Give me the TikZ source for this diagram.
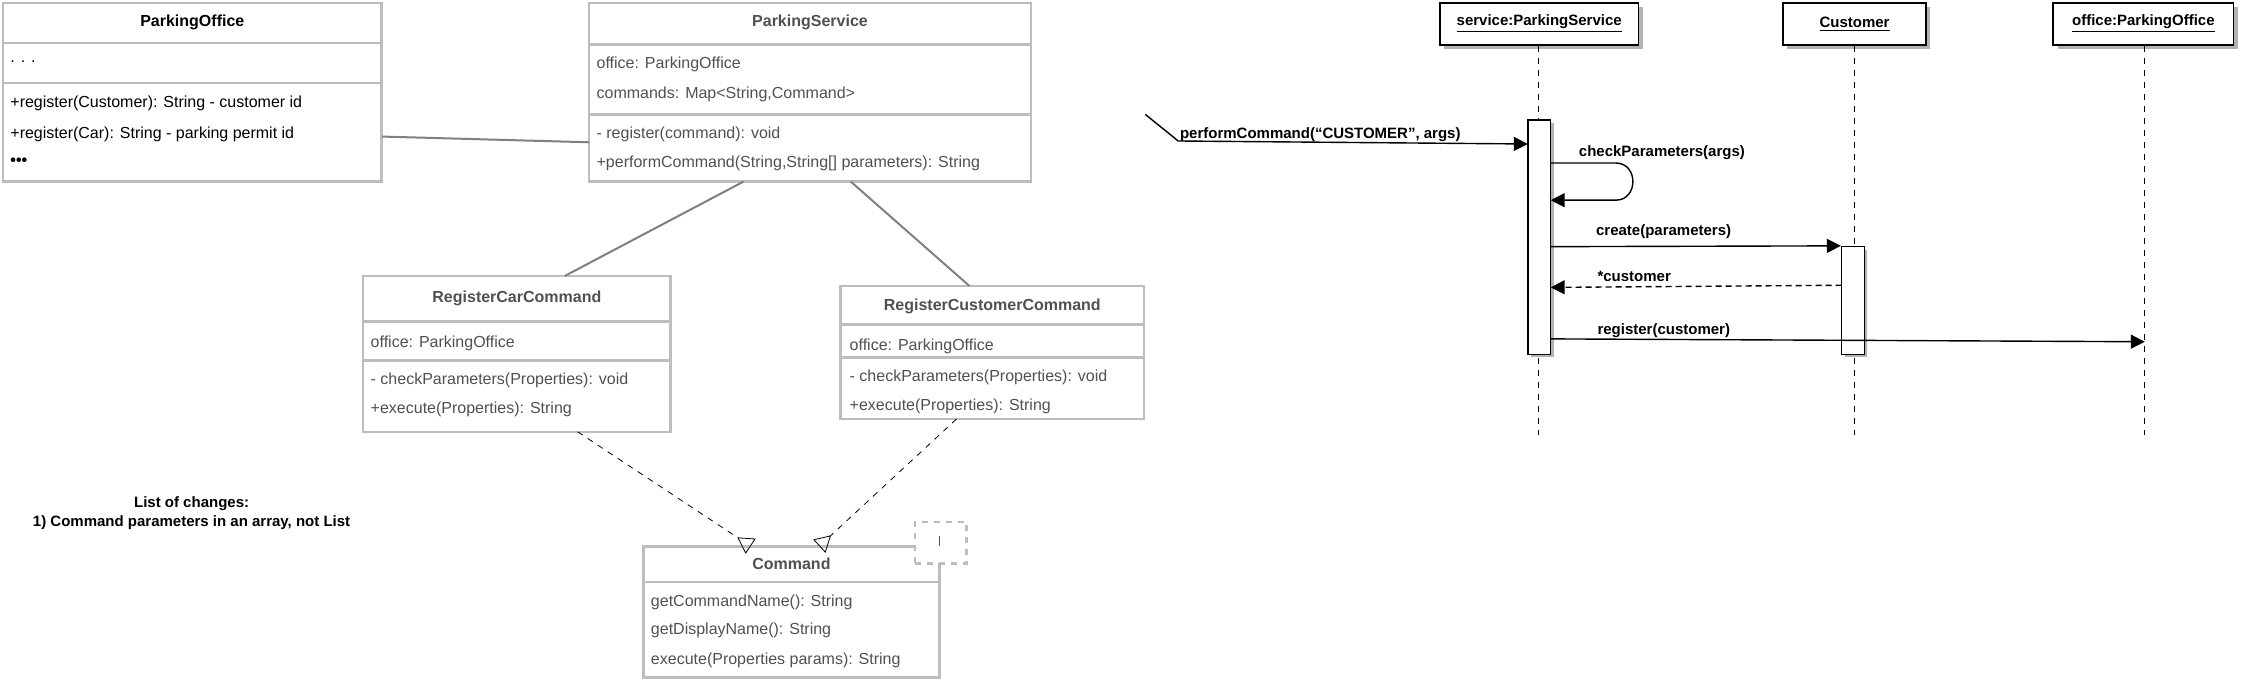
\documentclass[tikz,border=0pt]{standalone}
\usepackage{fontspec}
\setmainfont{Liberation Sans}
\usetikzlibrary{fit,arrows.meta}
\definecolor{bx}{HTML}{BBBDBF}
\definecolor{tx}{HTML}{505050}
\begin{document}
\begin{tikzpicture}[x=0.715pt,y=-0.715pt,
  cls/.style={draw=bx,line width=1.3pt,inner sep=0pt},
  sep/.style={draw=bx,line width=1.3pt},
  ctitle/.style={font=\fontsize{8}{9}\selectfont\bfseries,text=tx},
  ctext/.style={font=\fontsize{8}{9}\selectfont,text=tx,anchor=west,inner sep=0pt},
  assoc/.style={draw=gray,line width=1pt},
  real/.style={dashed,-{Triangle[open,reversed,length=8pt,width=9pt]}},
  obj/.style={draw=black,line width=0.8pt,fill=white,inner sep=0pt},
  sl/.style={font=\fontsize{7.5}{9}\selectfont\bfseries,anchor=west,inner sep=0pt},
  msg/.style={-{Triangle[length=7pt,width=7pt]},line width=0.7pt},
  life/.style={dashed,line width=0.6pt}]
\useasboundingbox (0,0) rectangle (1568,476);
% ParkingOffice
\coordinate (po1) at (2,2); \coordinate (po2) at (267,127);
\node[cls,fit=(po1)(po2)] (po) {};
\draw[sep] (2,30) -- (267,30); \draw[sep] (2,58) -- (267,58);
\node[ctitle,text=black] (pot) at (134.5,16) {ParkingOffice};
\node[ctext,text=black] (pod) at (7,43) {. . .};
\node[ctext,text=black] (po3) at (7,72) {+register(Customer): String - customer id};
\node[ctext,text=black] (po4) at (7,94) {+register(Car): String - parking permit id};
\node[ctext,text=black] (po5) at (7,113) {\textbf{•••}};
% ParkingService
\coordinate (ps1) at (412,2); \coordinate (ps2) at (721,127);
\node[cls,fit=(ps1)(ps2)] (ps) {};
\draw[sep] (412,31) -- (721,31); \draw[sep] (412,80) -- (721,80);
\node[ctitle] (pst) at (566.5,16) {ParkingService};
\node[ctext] (ps3) at (417,45) {office: ParkingOffice};
\node[ctext] (ps4) at (417,66) {commands: Map<String,Command>};
\node[ctext] (ps5) at (417,94) {- register(command): void};
\node[ctext] (ps6) at (417,114) {+performCommand(String,String[] parameters): String};
% RegisterCarCommand
\coordinate (rc1) at (254,193); \coordinate (rc2) at (469,302);
\node[cls,fit=(rc1)(rc2)] (rc) {};
\draw[sep] (254,225) -- (469,225); \draw[sep] (254,252) -- (469,252);
\node[ctitle] (rct) at (361.5,209) {RegisterCarCommand};
\node[ctext] (rc3) at (259,240) {office: ParkingOffice};
\node[ctext] (rc4) at (259,266) {- checkParameters(Properties): void};
\node[ctext] (rc5) at (259,286) {+execute(Properties): String};
% RegisterCustomerCommand
\coordinate (ru1) at (588,200); \coordinate (ru2) at (800,293);
\node[cls,fit=(ru1)(ru2)] (ru) {};
\draw[sep] (588,227) -- (800,227); \draw[sep] (588,250) -- (800,250);
\node[ctitle] (rut) at (694,214) {RegisterCustomerCommand};
\node[ctext] (ru3) at (594,242) {office: ParkingOffice};
\node[ctext] (ru4) at (594,264) {- checkParameters(Properties): void};
\node[ctext] (ru5) at (594,284) {+execute(Properties): String};
% Command
\coordinate (cm1) at (450,382); \coordinate (cm2) at (657,474);
\node[cls,fit=(cm1)(cm2)] (cm) {};
\draw[sep] (450,407) -- (657,407);
\node[ctitle] (cmt) at (553.5,394) {Command};
\node[ctext] (cm3) at (455,421) {getCommandName(): String};
\node[ctext] (cm4) at (455,441) {getDisplayName(): String};
\node[ctext] (cm5) at (455,462) {execute(Properties params): String};
\coordinate (tp1) at (640,365); \coordinate (tp2) at (676,394);
\node[draw=bx,dashed,line width=1.3pt,fill=white,inner sep=0pt,fit=(tp1)(tp2)] (tp) {};
\draw[tx,line width=0.5pt] (657,375) -- (657,382);
% connectors
\coordinate (a1) at (267,95.5); \coordinate (a2) at (412,99.5);
\draw[assoc] (a1) -- (a2);
\coordinate (b1) at (520,127); \coordinate (b2) at (395,193);
\draw[assoc] (b1) -- (b2);
\coordinate (c1) at (595,127); \coordinate (c2) at (678,200);
\draw[assoc] (c1) -- (c2);
\coordinate (d1) at (404,302); \coordinate (d2) at (525,382);
\draw[real] (d1) -- (d2);
\coordinate (e1) at (669,293); \coordinate (e2) at (573,382);
\draw[real] (e1) -- (e2);
% note
\node[font=\fontsize{7.5}{9.5}\selectfont\bfseries,align=center] (note) at (134,359) {List of changes:\\1) Command parameters in an array, not List};
% sequence diagram
\foreach \n/\xa/\xb/\t in {s/1007/1146/service:ParkingService,c/1247/1347/Customer,o/1436/1562/office:ParkingOffice}{
  \coordinate (\n1) at (\xa,2); \coordinate (\n2) at (\xb,31.5);
  \fill[black!30] (\xa+3,5) rectangle (\xb+3,34.5);
  \node[obj,fit=(\n1)(\n2)] (\n) {};
  \node[font=\fontsize{7.5}{9}\selectfont\bfseries] (\n t) at (\n) {\underline{\t}};
}
\coordinate (sl) at (1076,304); \coordinate (cl) at (1297,304); \coordinate (ol) at (1500,304);
\draw[life] (s.south -| sl) -- (sl);
\draw[life] (c.south -| cl) -- (cl);
\draw[life] (o.south -| ol) -- (ol);
\coordinate (sa1) at (1068.5,84); \coordinate (sa2) at (1084.5,248);
\fill[black!30] (1070.5,86) rectangle (1086.5,250);
\node[obj,fit=(sa1)(sa2)] (sa) {};
\coordinate (ca1) at (1288,172.5); \coordinate (ca2) at (1304,248);
\fill[black!30] (1290,174.5) rectangle (1306,250);
\node[obj,fit=(ca1)(ca2)] (ca) {};
% messages
\coordinate (f0) at (801,80); \coordinate (f1) at (824,98.6);
\draw[line width=0.7pt] (f0) -- (f1);
\draw[msg] (f1) -- (1068.5,100.7);
\node[sl] (m1) at (825,94) {performCommand(“CUSTOMER”, args)};
\draw[msg] (1084.5,114) -- (1130,114) .. controls (1146,114) and (1146,140) .. (1130,140) -- (1084.5,140);
\node[sl] (m2) at (1104,107) {checkParameters(args)};
\draw[msg] (1084.5,172.5) -- (ca.north west);
\node[sl] (m3) at (1116,162) {create(parameters)};
\draw[-{Triangle[length=7pt,width=7pt]},line width=0.7pt,densely dashed] (1288,199.5) -- (1084.5,201);
\node[sl] (m4) at (1117,193) {*customer};
\draw[msg] (1084.5,237) -- (1500,239);
\node[sl] (m5) at (1117,231) {register(customer)};
\end{tikzpicture}
\end{document}
